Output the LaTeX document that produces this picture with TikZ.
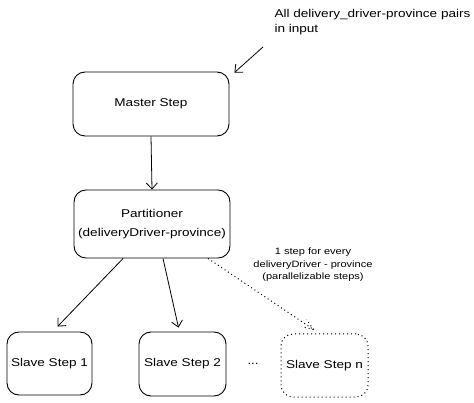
\documentclass[tikz,border=0pt]{standalone}
\usepackage{fontspec}
\setmainfont[FakeStretch=1.2]{Liberation Sans}
\usetikzlibrary{arrows.meta,calc}
\begin{document}
\begin{tikzpicture}[x=1pt,y=-1pt,
  box/.style={draw, line width=0.9pt, rounded corners=12pt, align=center, inner sep=0pt, font=\fontsize{11.3}{19}\selectfont},
  dotbox/.style={box, dash pattern=on 1pt off 3pt, line width=1pt},
  conn/.style={line width=0.8pt, -{Straight Barb[length=6pt,width=11pt,line width=0.8pt]}},
  dotconn/.style={line width=1pt, dash pattern=on 1pt off 3pt},
  note/.style={font=\fontsize{9.2}{12.5}\selectfont, align=center},
  topnote/.style={font=\fontsize{11.3}{15}\selectfont, align=left, anchor=west}
]
\useasboundingbox (0,0) rectangle (474,403);
\node[box, minimum width=156pt, minimum height=64pt] (master) at (151,104) {Master Step};
\node[box, minimum width=156pt, minimum height=68pt] (part) at (152,224) {Partitioner\\(deliveryDriver-province)};
\node[box, minimum width=85pt, minimum height=63pt] (s1) at (49.5,363.5) {Slave Step 1};
\node[box, minimum width=87pt, minimum height=64pt] (s2) at (182.5,364) {Slave Step 2};
\node[dotbox, minimum width=87pt, minimum height=63pt] (sn) at (324.5,365.5) {Slave Step n};
\node[font=\fontsize{11}{13}\selectfont] (dots) at (253,364) {...};
\node[topnote] (top) at (271,22) {All delivery\_driver-province pairs\\in input};
\node[note] (ann) at (313,265) {1 step for every\\deliveryDriver - province\\(parallelizable steps)};
\coordinate (inStart) at (263,47);
\draw[conn] (inStart) -- ($(master.north east)+(5,1)$);
\draw[conn] (master.south) -- (part.north);
\draw[conn] (part.-130) -- ($(s1.north)+(8,-5)$);
\draw[conn] ($(part.south)+(11,0)$) -- ($(s2.north)+(-4,-4)$);
\coordinate (tip) at ($(sn.north)+(-11,-4)$);
\draw[dotconn] ($(part.south)+(56,0)$) -- (tip);
\draw[dotconn] (tip) -- ++(125:12pt);
\draw[dotconn] (tip) -- ++(166:12pt);
\end{tikzpicture}
\end{document}
